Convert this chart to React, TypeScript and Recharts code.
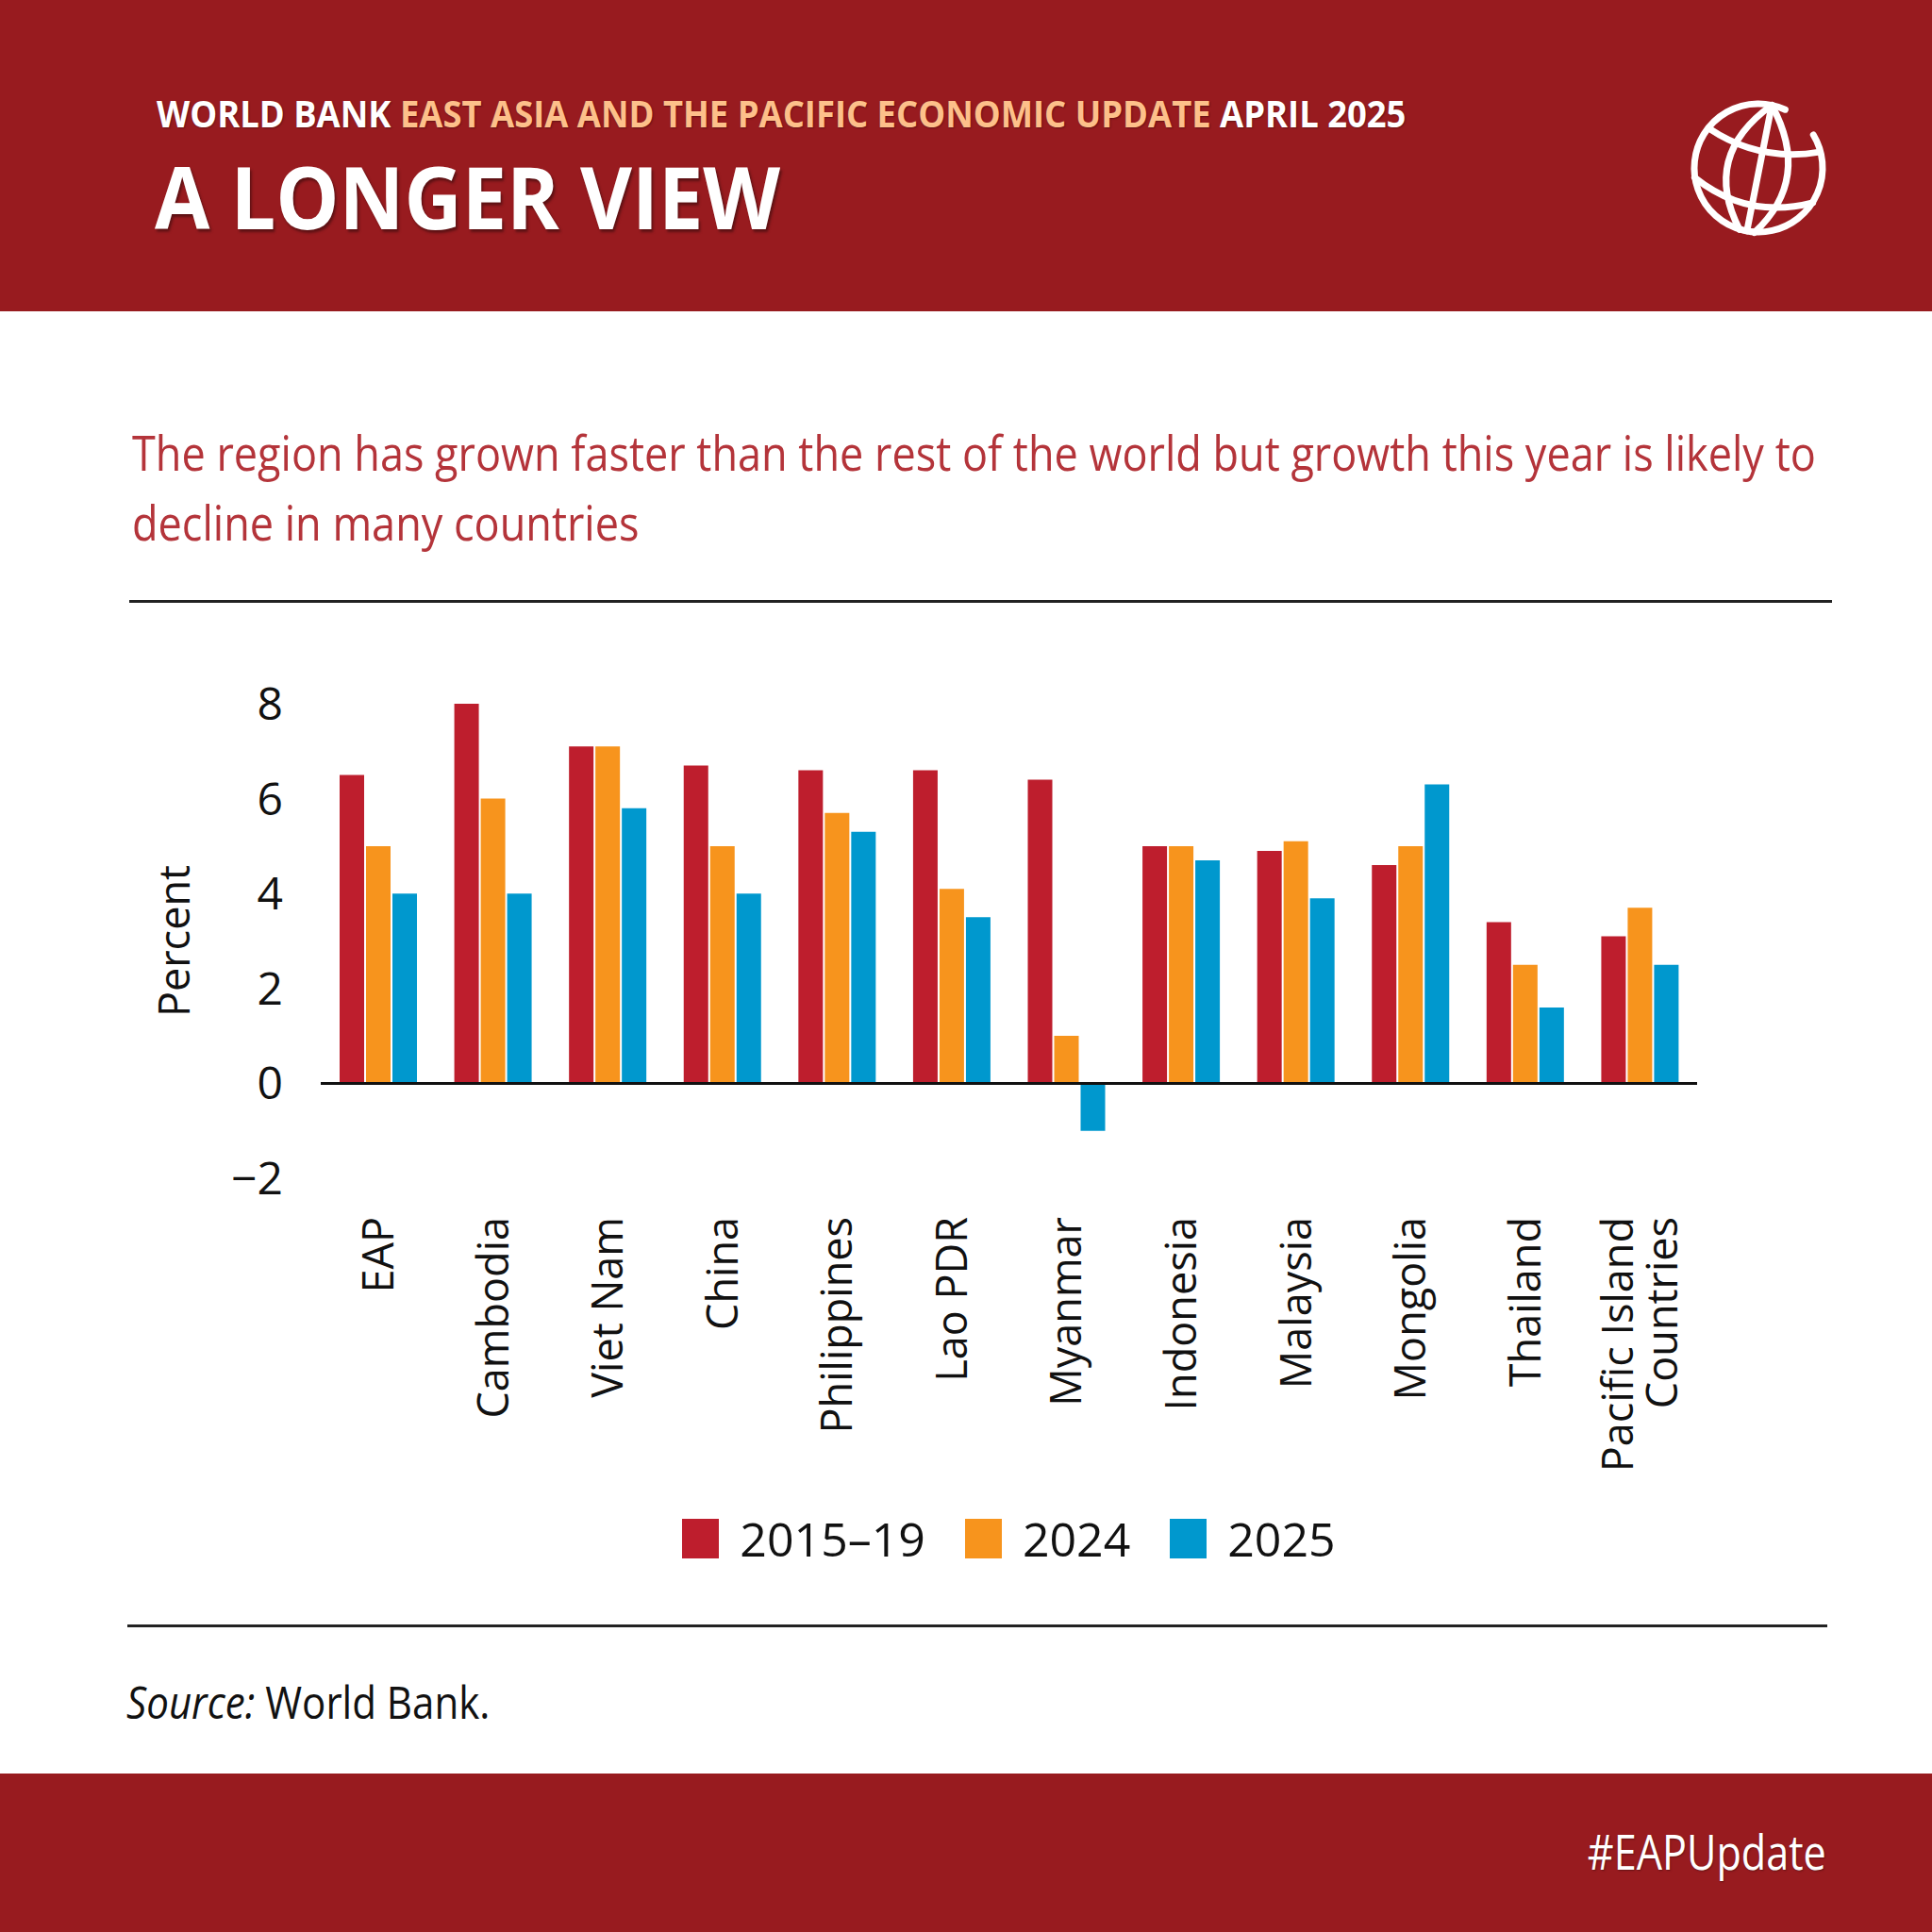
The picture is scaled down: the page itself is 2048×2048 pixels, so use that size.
import React from 'react';
import { BarChart, Bar, XAxis, YAxis, ReferenceLine } from 'recharts';

// values
const categories = [
  'EAP',
  'Cambodia',
  'Viet Nam',
  'China',
  'Philippines',
  'Lao PDR',
  'Myanmar',
  'Indonesia',
  'Malaysia',
  'Mongolia',
  'Thailand',
  'Pacific Island\nCountries',
];
const avg2015to19 = [6.5, 8.0, 7.1, 6.7, 6.6, 6.6, 6.4, 5.0, 4.9, 4.6, 3.4, 3.1];
const growth2024 = [5.0, 6.0, 7.1, 5.0, 5.7, 4.1, 1.0, 5.0, 5.1, 5.0, 2.5, 3.7];
const growth2025 = [4.0, 4.0, 5.8, 4.0, 5.3, 3.5, -1.0, 4.7, 3.9, 6.3, 1.6, 2.5];
const yTicks = [-2, 0, 2, 4, 6, 8];

const SERIES = [
  { key: 'p1519', name: '2015\u201319', color: '#BE1E2D' },
  { key: 'p2024', name: '2024', color: '#F7941D' },
  { key: 'p2025', name: '2025', color: '#0098CE' },
];

const data = categories.map((c, i) => ({
  name: c,
  p1519: avg2015to19[i],
  p2024: growth2024[i],
  p2025: growth2025[i],
}));

const BAND = '#981B1F';
const FONT = '"Open Sans", "Noto Sans", sans-serif';

// no condensed face installed, so squeeze Open Sans horizontally
const squeeze = (sx: number, origin = 'left center'): React.CSSProperties => ({
  display: 'inline-block',
  transform: `scaleX(${sx})`,
  transformOrigin: origin,
  whiteSpace: 'nowrap',
});

function CategoryTick(props: any) {
  const { x, y, payload } = props;
  const lines = String(payload.value).split('\n');
  const lh = 47;
  const first = -((lines.length - 1) * lh) / 2;
  return (
    <g transform={`translate(${x},${y}) rotate(-90)`}>
      {lines.map((l, i) => (
        <text
          key={i}
          x={0}
          y={first + i * lh}
          dy="0.36em"
          textAnchor="end"
          fontFamily={FONT}
          fontSize={45}
          fill="#111"
        >
          {l}
        </text>
      ))}
    </g>
  );
}

function PercentLabel(props: any) {
  const { viewBox } = props;
  const cx = viewBox.x - 57;
  const cy = viewBox.y + viewBox.height / 2;
  return (
    <text
      x={cx}
      y={cy}
      transform={`rotate(-90, ${cx}, ${cy})`}
      textAnchor="middle"
      dominantBaseline="central"
      fontFamily={FONT}
      fontSize={45}
      fill="#111"
    >
      Percent
    </text>
  );
}

function Globe() {
  const r = 68;
  const a0 = -1.35;
  const a1 = -0.75;
  return (
    <svg width={190} height={180} style={{ position: 'absolute', left: 1770, top: 90 }}>
      <g
        transform="translate(94,88) rotate(12)"
        fill="none"
        stroke="#fff"
        strokeWidth={7}
        strokeLinecap="round"
      >
        <path d={`M ${r * Math.cos(a0)} ${r * Math.sin(a0)} A ${r} ${r} 0 1 0 ${r * Math.cos(a1)} ${r * Math.sin(a1)}`} />
        <path d={`M 0 ${-r} Q -62 0 -6 ${r}`} />
        <path d={`M 0 ${-r} Q 58 0 10 ${r}`} />
        <line x1={0} y1={-r} x2={2} y2={r} />
        <path d="M -60 -30 Q 0 -6 60 -30" />
        <path d="M -64 24 Q 0 56 64 24" />
      </g>
    </svg>
  );
}

export default function App() {
  return (
    <div
      style={{
        position: 'absolute',
        left: 0,
        top: 0,
        width: 2048,
        height: 2048,
        background: '#fff',
        overflow: 'hidden',
      }}
    >
      {/* header band */}
      <div style={{ position: 'absolute', left: 0, top: 0, width: 2048, height: 330, background: BAND }} />
      <div
        style={{
          position: 'absolute',
          left: 166,
          top: 96,
          fontFamily: FONT,
          fontWeight: 700,
          fontSize: 40,
          lineHeight: '48px',
          color: '#fff',
          textShadow: '1px 1px 2px rgba(0,0,0,0.35)',
        }}
      >
        <span style={squeeze(0.91)}>
          WORLD BANK <span style={{ color: '#FDC08A' }}>EAST ASIA AND THE PACIFIC ECONOMIC UPDATE</span> APRIL 2025
        </span>
      </div>
      <div
        style={{
          position: 'absolute',
          left: 164,
          top: 158,
          fontFamily: FONT,
          fontWeight: 700,
          fontSize: 92,
          lineHeight: '100px',
          color: '#fff',
          textShadow: '2px 3px 3px rgba(0,0,0,0.4)',
        }}
      >
        <span style={squeeze(0.92)}>A LONGER VIEW</span>
      </div>
      <Globe />

      {/* subtitle */}
      <div
        style={{
          position: 'absolute',
          left: 140,
          top: 442,
          fontFamily: FONT,
          fontSize: 52,
          lineHeight: '74px',
          color: '#B4343A',
        }}
      >
        <div style={squeeze(0.866)}>
          The region has grown faster than the rest of the world but growth this year is likely to
        </div>
        <br />
        <div style={{ ...squeeze(0.866), marginTop: -74 }}>decline in many countries</div>
      </div>
      <div style={{ position: 'absolute', left: 137, top: 636, width: 1805, height: 3, background: '#222' }} />

      {/* chart */}
      <div style={{ position: 'absolute', left: 0, top: 680 }}>
        <BarChart
          width={2048}
          height={1020}
          data={data}
          margin={{ top: 66, right: 249, bottom: 0, left: 240 }}
          barSize={26}
          barGap={2}
        >
          <XAxis
            dataKey="name"
            interval={0}
            axisLine={false}
            tickLine={false}
            tickSize={6}
            tickMargin={35}
            height={451}
            tick={<CategoryTick />}
          />
          <YAxis
            width={100}
            domain={[-2, 8]}
            ticks={yTicks}
            interval={0}
            axisLine={false}
            tickLine={false}
            tickSize={6}
            tickMargin={34}
            tickFormatter={(v: number) => String(v).replace('-', '\u2212')}
            tick={{ fontFamily: FONT, fontSize: 48, fill: '#111' }}
            label={<PercentLabel />}
          />
          {SERIES.map((s) => (
            <Bar key={s.key} dataKey={s.key} name={s.name} fill={s.color} isAnimationActive={false} />
          ))}
          <ReferenceLine y={0} stroke="#111" strokeWidth={3} />
        </BarChart>
      </div>

      {/* legend */}
      <div
        style={{
          position: 'absolute',
          left: 340,
          width: 1459,
          top: 1605,
          display: 'flex',
          justifyContent: 'center',
          alignItems: 'center',
          fontFamily: FONT,
          fontSize: 50,
          color: '#111',
        }}
      >
        {SERIES.map((s) => (
          <div key={s.key} style={{ display: 'flex', alignItems: 'center', margin: '0 21px' }}>
            <div style={{ width: 39, height: 42, background: s.color, marginRight: 22 }} />
            <span style={{ lineHeight: '52px' }}>{s.name}</span>
          </div>
        ))}
      </div>

      <div style={{ position: 'absolute', left: 135, top: 1722, width: 1802, height: 3, background: '#222' }} />

      {/* source */}
      <div
        style={{
          position: 'absolute',
          left: 134,
          top: 1776,
          fontFamily: FONT,
          fontSize: 47,
          lineHeight: '56px',
          color: '#111',
        }}
      >
        <span style={squeeze(0.895)}>
          <i>Source:</i> World Bank.
        </span>
      </div>

      {/* footer band */}
      <div style={{ position: 'absolute', left: 0, top: 1880, width: 2048, height: 168, background: BAND }} />
      <div
        style={{
          position: 'absolute',
          right: 112,
          top: 1932,
          fontFamily: FONT,
          fontSize: 52,
          lineHeight: '60px',
          color: '#fff',
          textShadow: '1px 1px 2px rgba(0,0,0,0.35)',
        }}
      >
        <span style={squeeze(0.83, 'right center')}>#EAPUpdate</span>
      </div>
    </div>
  );
}
